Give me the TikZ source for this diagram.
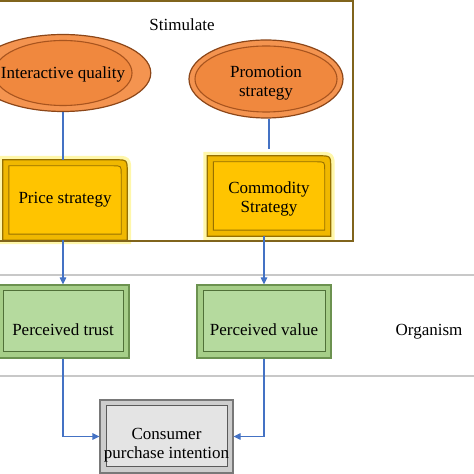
\documentclass[tikz,border=0pt]{standalone}
\usepackage{fontspec}
\setmainfont{Liberation Serif}
\usetikzlibrary{arrows.meta,shapes.geometric,calc,backgrounds}
\definecolor{frameC}{RGB}{128,100,28}
\definecolor{lineC}{RGB}{68,114,196}
\definecolor{sepC}{RGB}{200,200,200}
\definecolor{orangeF}{RGB}{240,136,62}
\definecolor{orangeR}{RGB}{244,148,80}
\definecolor{orangeD}{RGB}{140,70,24}
\definecolor{orangeI}{RGB}{168,84,30}
\definecolor{goldF}{RGB}{255,196,0}
\definecolor{goldR}{RGB}{240,184,0}
\definecolor{goldD}{RGB}{150,112,0}
\definecolor{glowC}{RGB}{255,247,170}
\definecolor{greenF}{RGB}{181,218,158}
\definecolor{greenR}{RGB}{166,206,136}
\definecolor{greenD}{RGB}{108,146,80}
\definecolor{greenI}{RGB}{80,112,56}
\definecolor{grayF}{RGB}{228,228,228}
\definecolor{grayR}{RGB}{205,205,205}
\definecolor{grayD}{RGB}{120,120,120}
\definecolor{grayI}{RGB}{90,90,90}
\newcommand\goldshape[1]{%
  \path[draw=goldD, line width=1.2pt, fill=goldR, preaction={draw=glowC, line width=8pt}]
    (#1.south west) -- (#1.north west) -- ($(#1.north east)+(-12,0)$)
    .. controls (#1.north east) .. ($(#1.north east)+(0,-12)$) -- (#1.south east) -- cycle;
  \path[draw=goldD, line width=0.9pt, fill=goldF]
    ($(#1.south west)+(6,6)$) -- ($(#1.north west)+(6,-6)$) -- ($(#1.north east)+(-14,-6)$)
    .. controls ($(#1.north east)+(-6,-6)$) .. ($(#1.north east)+(-6,-14)$) -- ($(#1.south east)+(-6,6)$) -- cycle;
}
\newcommand\droptext[2]{\raisebox{#1}[0pt][0pt]{\begin{tabular}{@{}c@{}}#2\end{tabular}}}
\tikzset{
  oval/.style 2 args={ellipse, minimum width=#1, minimum height=#2, inner sep=0pt,
    fill=orangeR, draw=orangeD, line width=1.2pt, align=center,
    path picture={\draw[orangeI, line width=1.1pt, fill=orangeF] (path picture bounding box.center)
      ellipse [x radius={(#1/2-6)*1pt}, y radius={(#2/2-6)*1pt}];}},
  bevelbox/.style n args={4}{rectangle, inner sep=0pt, fill=#2, draw=#3, line width=1.2pt, align=center,
    path picture={\draw[#4, line width=1pt, fill=#1]
      ([shift={(6pt,6pt)}]path picture bounding box.south west) rectangle
      ([shift={(-6pt,-6pt)}]path picture bounding box.north east);}},
  goldnode/.style={rectangle, inner sep=0pt, align=center},
  conn/.style={draw=lineC, line width=1.2pt},
  arr/.style={conn, -{Triangle[length=7pt,width=6.5pt]}},
}
\begin{document}
\begin{tikzpicture}[x=1pt,y=1pt,font=\fontsize{17}{19}\selectfont]
\useasboundingbox (0,0) rectangle (474,474);
% frame and separators
\draw[frameC, line width=2pt] (-6,233) rectangle (353,473);
\draw[sepC, line width=2.5pt] (0,199) -- (474,199);
\draw[sepC, line width=2.5pt] (0,98) -- (474,98);
% labels
\node[anchor=base] (stim) at (182,443) {Stimulate};
\node[anchor=base] (org) at (429,138) {Organism};
% ellipses
\node[oval={150}{77}] (iq) at (63,401) {\raisebox{-5.8pt}[0pt][0pt]{Interactive quality}};
\node[oval={154}{78}] (promo) at (266,395) {\droptext{-8.5pt}{Promotion\\strategy}};
% gold boxes
\node[goldnode, minimum width=124, minimum height=80] (price) at (65,274) {Price strategy};
\node[goldnode, minimum width=123, minimum height=80] (comm) at (269,278) {\droptext{-7.75pt}{Commodity\\Strategy}};
\begin{scope}[on background layer]
  \goldshape{price}
  \goldshape{comm}
\end{scope}
% green boxes
\node[bevelbox={greenF}{greenR}{greenD}{greenI}, minimum width=132, minimum height=73] (trust) at (63,152.5) {\raisebox{-14.5pt}[0pt][0pt]{Perceived trust}};
\node[bevelbox={greenF}{greenR}{greenD}{greenI}, minimum width=134, minimum height=73] (value) at (264,152.5) {\raisebox{-14.5pt}[0pt][0pt]{Perceived value}};
% gray box
\node[bevelbox={grayF}{grayR}{grayD}{grayI}, minimum width=133, minimum height=73] (cons) at (166.5,37.5) {\droptext{-13.4pt}{Consumer\\purchase intention}};
% connectors
\draw[conn] (iq.south) -- (iq.south |- price.north);
\draw[conn, shorten >=7pt] (promo.south -| comm.north) -- (comm.north);
\draw[arr] (price.south -| trust.north) -- (trust.north);
\draw[arr] (comm.south -| value.north) -- (value.north);
\draw[arr] (trust.south) |- (cons.west);
\draw[arr] (value.south) |- (cons.east);
\end{tikzpicture}
\end{document}
